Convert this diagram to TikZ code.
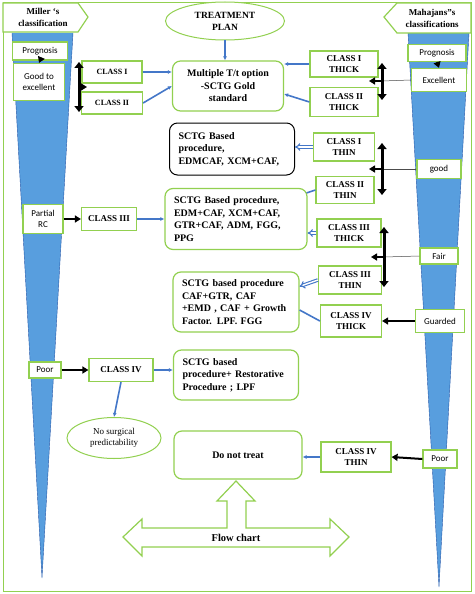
\documentclass[tikz,border=0pt]{standalone}
\usepackage{fontspec}
\setmainfont{Liberation Serif}
\newfontfamily\calib{Carlito}
\usetikzlibrary{arrows,arrows.meta,calc,shapes.geometric}
\definecolor{G}{RGB}{146,208,80}
\definecolor{B}{RGB}{68,119,200}
\definecolor{F}{RGB}{88,158,222}
\definecolor{D}{RGB}{40,90,170}

\tikzset{
   box/.style={draw=G, line width=1.2pt, fill=white, align=center, inner sep=1pt,
      font=\bfseries\fontsize{9}{11}\selectfont},
   rbox/.style={box, rounded corners=8pt, align=left, inner xsep=9pt,
      font=\bfseries\fontsize{10}{12.5}\selectfont},
   tag/.style={draw=G, line width=1.2pt, fill=white, align=center, inner sep=1pt,
      font=\calib\fontsize{9}{11}\selectfont},
   oval/.style={ellipse, draw=G, line width=1pt, fill=white, align=center, inner sep=0pt},
   barrow/.style={B, line width=1.6pt, -{Latex[length=4pt,width=4pt]}},
   bline/.style={B, line width=1.6pt},
   darrow/.style={B, double=white, double distance=1.4pt, line width=1.1pt, -{Implies[length=4pt]}},
   karrow/.style={black, line width=2pt, -{Triangle[length=6pt,width=7pt]}},
   bracket/.style={black, line width=3pt, {Triangle[length=6pt,width=9pt]}-{Triangle[length=6pt,width=9pt]}},
   guide/.style={black!70, line width=0.5pt}
}

\begin{document}
\begin{tikzpicture}[x=1pt, y=-1pt]
   \useasboundingbox (0,0) rectangle (474,594);
   \draw[G, line width=1pt] (3,3) rectangle (471,591);

   \fill[F] (12,33) -- (73,33) -- (42,578) -- cycle;
   \draw[D, thin] (12,33) -- (42,578) -- (73,33);
   \fill[F] (408,33) -- (469,33) -- (439,587) -- cycle;
   \draw[D, thin] (408,33) -- (439,587) -- (469,33);

   \draw[G, line width=1.2pt, fill=white] (3,3) -- (78,3) -- (88,17) -- (78,32) -- (3,32) -- cycle;
   \node[align=center, font=\bfseries\fontsize{9}{12}\selectfont] (miller) at (43,17) {Miller `s\\classification};
   \draw[G, line width=1.2pt, fill=white] (471,3) -- (397,3) -- (384,17) -- (397,33) -- (471,33) -- cycle;
   \node[align=center, font=\bfseries\fontsize{9}{12}\selectfont] (mahajan) at (432,18) {Mahajans''s\\classifications};

   \node[tag, minimum width=55, minimum height=18] (prog1) at (40,51) {Prognosis};
   \node[tag, minimum width=51, minimum height=37] (good1) at (39,82) {Good to\\excellent};
   \node[tag, minimum width=40, minimum height=29] (prc) at (43,219) {Partial\\RC};
   \node[tag, minimum width=32, minimum height=16] (poor1) at (45,370) {Poor};

   \node[box, minimum width=60, minimum height=22, font=\bfseries\fontsize{8}{10}\selectfont] (c1) at (112,72) {CLASS I};
   \node[box, minimum width=61, minimum height=22, font=\bfseries\fontsize{8}{10}\selectfont] (c2) at (112,103) {CLASS II};
   \node[box, minimum width=55, minimum height=23] (c3) at (109,219) {CLASS III};
   \node[box, minimum width=64, minimum height=23] (c4) at (121,370) {CLASS IV};
   \node[oval, minimum width=94, minimum height=41, font=\fontsize{9}{11}\selectfont] (nsp) at (114,438) {No surgical\\predictability};

   \node[oval, minimum width=119, minimum height=38, font=\bfseries\fontsize{9.5}{12}\selectfont] (plan) at (225,21) {TREATMENT\\PLAN};
   \node[rbox, align=center, minimum width=111, minimum height=50] (mult) at (228,86) {Multiple T/t option\\-SCTG Gold\\standard};
   \node[rbox, draw=black, line width=1pt, text width=107, minimum height=52] (p1) at (232,149) {SCTG Based\\procedure,\\EDMCAF, XCM+CAF,};
   \node[rbox, text width=124, minimum height=61] (p2) at (236,219) {SCTG Based procedure,\\EDM+CAF, XCM+CAF,\\GTR+CAF, ADM, FGG,\\PPG};
   \node[rbox, text width=108, minimum height=60] (p3) at (236,302) {SCTG based procedure\\CAF+GTR, CAF\\+EMD , CAF + Growth\\Factor. LPF. FGG};
   \node[rbox, text width=107, minimum height=50] (p4) at (236,375) {SCTG based\\procedure+ Restorative\\Procedure ; LPF};
   \node[rbox, align=center, minimum width=128, minimum height=48] (dnt) at (238,455) {Do not treat};

   \node[box, minimum width=68, minimum height=26] (k1) at (344,64) {CLASS I\\THICK};
   \node[box, minimum width=68, minimum height=29] (k2) at (344,102) {CLASS II\\THICK};
   \node[box, minimum width=61, minimum height=28] (n1) at (344,147) {CLASS I\\THIN};
   \node[box, minimum width=58, minimum height=27] (n2) at (345,190) {CLASS II\\THIN};
   \node[box, minimum width=64, minimum height=28] (k3) at (349,233) {CLASS III\\THICK};
   \node[box, minimum width=63, minimum height=28] (n3) at (350,280) {CLASS III\\THIN};
   \node[box, minimum width=61, minimum height=32] (k4) at (351,321) {CLASS IV\\THICK};
   \node[box, minimum width=70, minimum height=30] (n4) at (356,457) {CLASS IV\\THIN};

   \node[tag, minimum width=58, minimum height=17] (prog2) at (437,53) {Prognosis};
   \node[tag, minimum width=55, minimum height=23] (exc) at (439,80) {Excellent};
   \node[tag, minimum width=44, minimum height=19] (gd) at (439,169) {good};
   \node[tag, minimum width=38, minimum height=16] (fair) at (439,256) {Fair};
   \node[tag, minimum width=49, minimum height=23] (guard) at (440,321) {Guarded};
   \node[tag, minimum width=34, minimum height=18] (poor2) at (440,459) {Poor};

   \coordinate (lb) at (79,87);
   \coordinate (rb1) at (382,81);
   \coordinate (rb2) at (382,169);
   \coordinate (rb3) at (384,257);

   \draw[barrow] (plan.south) -- (plan.south |- mult.north);
   \draw[barrow] (c1.east) -- (c1.east -| mult.west);
   \draw[barrow] (c2.east) -- (mult.west);
   \draw[barrow] (k1.west) -- (k1.west -| mult.east);
   \draw[barrow] (k2.west) -- ($(mult.east)+(0,8)$);
   \draw[darrow] (n1.west) -- (n1.west -| p1.east);
   \draw[barrow] (c3.east) -- (c3.east -| p2.west);
   \draw[bline] (n2.west) -- ($(p2.north east)+(-1,5)$);
   \draw[darrow] (k3.west) -- (k3.west -| p2.east);
   \draw[darrow] (n3.west) -- ($(p3.north east)+(0,15)$);
   \draw[bline] (k4.west) -- ($(p3.east)+(0,8)$);
   \draw[barrow] (c4.east) -- (c4.east -| p4.west);
   \draw[barrow] (c4.south) -- (nsp.north);
   \draw[barrow] (n4.west) -- (n4.west -| dnt.east);

   \draw[karrow] (prog1.south) -- (good1.north);
   \draw[karrow] (prc.east) -- (c3.west);
   \draw[karrow] (poor1.east) -- (c4.west);
   \draw[karrow] (prog2.south) -- (exc.north);
   \draw[karrow] (guard.west) -- (k4.east);
   \draw[karrow] (poor2.west) -- (n4.east);

   \draw[bracket] ([yshift=25pt]lb) -- ([yshift=-25pt]lb);
   \draw[karrow] (lb) -- ++(8,0);
   \draw[guide] (exc.west) -- (rb1);
   \draw[bracket] ([yshift=18pt]rb1) -- ([yshift=-19pt]rb1);
   \draw[karrow] (rb1) -- ++(-13,0);
   \draw[guide] (gd.west) -- (rb2);
   \draw[bracket] ([yshift=26pt]rb2) -- ([yshift=-26pt]rb2);
   \draw[karrow] (rb2) -- ++(-13,0);
   \draw[guide] (fair.west) -- (rb3);
   \draw[bracket] ([yshift=30pt]rb3) -- ([yshift=-30pt]rb3);
   \draw[karrow] (rb3) -- ++(-13,0);

   \draw[G, line width=1.2pt, fill=white] (123,537) -- (142,519) -- (142,528) -- (227,528) -- (227,501)
      -- (217,501) -- (236,481) -- (255,501) -- (246,501) -- (246,528) -- (330,528) -- (330,519)
      -- (349,537) -- (330,556) -- (330,547) -- (142,547) -- (142,556) -- cycle;
   \node[font=\bfseries\fontsize{10.5}{12}\selectfont] (flow) at (236,538) {Flow chart};
\end{tikzpicture}
\end{document}
